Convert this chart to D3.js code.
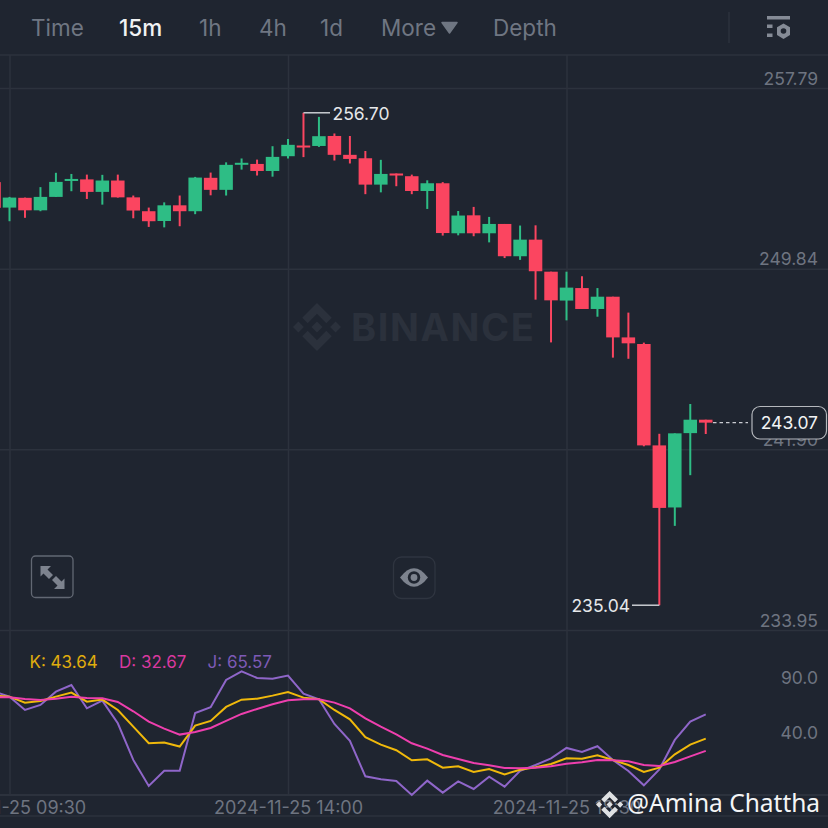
<!DOCTYPE html>
<html>
<head>
<meta charset="utf-8">
<script src="https://cdn.jsdelivr.net/npm/d3@7"></script>
<style>
  html, body { margin: 0; padding: 0; background: #1f2530; }
  svg { display: block; font-family: Inter, "Noto Sans", sans-serif; }
</style>
</head>
<body>
<svg id="thesvg" width="828" height="828"></svg>
<script>
// first candle is 09:15, one every 15 minutes
var startTime = "2024-11-25 09:15";

var opens = [253.65, 252.53, 252.96, 252.41, 253.00, 253.70, 253.77, 253.22, 253.72, 252.98, 252.37, 251.94, 252.63, 252.37, 253.84, 253.31, 254.42, 254.45, 254.14, 254.79, 255.26, 255.24, 255.68, 254.85, 254.70, 253.54, 254.03, 253.91, 253.26, 253.60, 251.40, 252.19, 251.40, 251.81, 250.39, 251.12, 249.71, 248.44, 248.99, 248.07, 248.61, 246.82, 246.53, 242.07, 239.34, 242.61, 243.20];
var highs = [253.70, 253.00, 252.97, 253.43, 254.06, 254.01, 253.98, 253.97, 253.98, 253.06, 252.53, 252.76, 253.06, 253.88, 254.07, 254.52, 254.69, 254.64, 255.23, 255.55, 256.70, 256.52, 255.79, 255.68, 255.02, 254.63, 254.03, 253.98, 253.73, 253.65, 252.38, 252.56, 252.12, 251.81, 251.74, 251.75, 249.71, 249.71, 249.51, 248.99, 248.61, 247.91, 246.59, 242.58, 242.60, 243.89, 243.20];
var lows = [252.40, 251.93, 252.08, 252.37, 253.00, 253.25, 252.91, 252.66, 252.97, 252.06, 251.68, 251.66, 251.71, 252.24, 253.07, 253.06, 254.20, 253.94, 253.89, 254.69, 254.75, 255.20, 254.60, 254.47, 253.12, 253.20, 253.47, 253.12, 252.47, 251.30, 251.31, 251.27, 251.00, 250.31, 250.23, 248.48, 246.60, 247.57, 248.07, 247.73, 245.93, 245.88, 242.03, 235.04, 238.53, 240.76, 242.57];
var closes = [252.52, 252.97, 252.41, 253.00, 253.66, 253.79, 253.22, 253.72, 252.98, 252.40, 251.93, 252.63, 252.37, 253.85, 253.31, 254.41, 254.50, 254.14, 254.76, 255.29, 255.20, 255.67, 254.85, 254.67, 253.54, 254.01, 253.94, 253.26, 253.60, 251.41, 252.18, 251.40, 251.81, 250.39, 251.12, 249.73, 248.45, 249.01, 248.07, 248.61, 246.82, 246.56, 242.07, 239.32, 242.60, 243.20, 243.07];

var kValues = [82.4, 81.5, 76.1, 77.6, 81.5, 85.1, 77.0, 78.8, 69.5, 54.5, 39.5, 40.1, 36.5, 55.4, 59.6, 72.2, 78.8, 79.7, 82.4, 85.7, 80.6, 79.1, 69.5, 61.1, 44.9, 38.3, 33.2, 24.2, 25.0, 17.5, 18.7, 13.6, 16.3, 11.5, 15.7, 17.8, 20.8, 25.9, 25.6, 28.7, 24.4, 19.9, 13.6, 17.5, 29.5, 38.3, 43.64];
var dValues = [80.9, 80.9, 79.4, 78.5, 79.7, 81.5, 80.3, 80.0, 76.7, 68.3, 59.0, 52.7, 47.3, 49.7, 53.3, 59.6, 65.9, 70.4, 74.6, 78.2, 79.1, 79.1, 76.1, 71.0, 62.0, 54.5, 47.6, 39.5, 34.7, 28.9, 25.3, 21.7, 19.6, 17.2, 16.9, 17.5, 18.8, 21.1, 22.3, 24.4, 24.1, 23.2, 19.9, 19.0, 22.6, 27.7, 32.67];
var jValues = [86.0, 81.5, 69.5, 74.0, 86.0, 92.0, 71.0, 77.9, 57.5, 24.5, 1.0, 14.8, 14.8, 66.8, 71.9, 96.5, 104.3, 98.3, 97.7, 100.5, 84.2, 79.1, 56.9, 41.6, 9.7, 7.0, 5.5, -7.1, 5.8, -5.0, 5.2, -1.7, 9.4, 0.4, 14.7, 19.9, 25.9, 35.3, 31.7, 36.8, 24.4, 14.5, 1.6, 16.0, 42.5, 59.0, 65.57];

var priceTicks = [257.79, 249.84, 241.90, 233.95];
var kdjTicks = [90, 40];
var timeTicks = ["2024-11-25 09:30", "2024-11-25 14:00", "2024-11-25 18:30"];
var menuLabels = ["Time", "15m", "1h", "4h", "1d", "More", "Depth"];
var menuStarts = [31, 119, 199, 259, 320, 381, 493];

var lastPrice = 243.07;
var highPrice = 256.70;
var lowPrice = 235.04;

var red = "#fb4560";
var green = "#2ebd85";
var gridColor = "#2c323d";
var axisText = "#6e7480";
var bg = "#1f2530";
var logoPath = "M38.73 53.2l24.59-24.58 24.6 24.6 14.3-14.31L63.32 0 24.42 38.9zM0 63.31l14.3-14.31 14.31 14.31-14.31 14.3zM38.73 73.41l24.59 24.59 24.6-24.6 14.31 14.29-38.9 38.91-38.91-38.88zM98 63.31l14.3-14.31 14.31 14.3-14.31 14.32zM77.83 63.3L63.32 48.78 52.59 59.51l-1.24 1.23-2.54 2.54 14.51 14.5 14.51-14.47z";

var svg = d3.select("#thesvg");
var parseTime = d3.timeParse("%Y-%m-%d %H:%M");
var formatTime = d3.timeFormat("%Y-%m-%d %H:%M");

var times = opens.map(function(d, i) {
    return d3.timeMinute.offset(parseTime(startTime), 15 * i);
});

var xScale = d3.scaleTime()
    .domain([parseTime(timeTicks[0]), parseTime(timeTicks[2])])
    .range([9.5, 566.5]);
var yScale = d3.scaleLinear().domain([257.79, 233.95]).range([88, 630]);
var kdjScale = d3.scaleLinear().domain([90, 40]).range([687.2, 742.7]);

// background + frame lines
svg.append("rect").attr("width", 828).attr("height", 828).attr("fill", bg);
[55, 795, 816].forEach(function(y) {
    svg.append("line").attr("x1", 0).attr("x2", 828).attr("y1", y).attr("y2", y)
        .attr("stroke", gridColor).attr("stroke-width", y == 795 ? 2 : 1.5);
});

// price axis with full width gridlines
var priceAxis = d3.axisRight(yScale)
    .tickValues(priceTicks)
    .tickSize(828)
    .tickFormat(d3.format(".2f"));
var priceG = svg.append("g").attr("class", "priceAxis").call(priceAxis);
priceG.select(".domain").remove();
priceG.selectAll("line").attr("stroke", gridColor).attr("stroke-width", 1.5);
priceG.selectAll("text")
    .attr("x", 818).attr("dy", -4).attr("text-anchor", "end")
    .attr("fill", axisText).style("font-size", "17.5px").style("font-family", "Inter");

// time axis, the tick lines are the vertical grid
var timeAxis = d3.axisBottom(xScale)
    .tickValues(timeTicks.map(parseTime))
    .tickSize(-740)
    .tickPadding(6)
    .tickFormat(formatTime);
var timeG = svg.append("g").attr("class", "timeAxis")
    .attr("transform", "translate(0,795)")
    .call(timeAxis);
timeG.select(".domain").remove();
timeG.selectAll("line").attr("stroke", gridColor).attr("stroke-width", 1.5);
timeG.selectAll("text")
    .attr("fill", axisText).style("font-size", "18px").style("font-family", "Inter");

// watermark
svg.append("path").attr("d", logoPath)
    .attr("transform", "translate(293,303) scale(0.379)")
    .attr("fill", "#2b313c");
svg.append("text").attr("x", 351).attr("y", 341)
    .attr("fill", "#2b313c")
    .style("font-size", "38px").style("font-weight", 700).style("letter-spacing", "1.6px")
    .text("BINANCE");

// candles
var candles = svg.append("g").selectAll("g").data(opens).enter().append("g");
candles.append("line")
    .attr("x1", function(d, i) { return xScale(times[i]); })
    .attr("x2", function(d, i) { return xScale(times[i]); })
    .attr("y1", function(d, i) { return yScale(highs[i]); })
    .attr("y2", function(d, i) { return yScale(lows[i]); })
    .attr("stroke", function(d, i) { return closes[i] >= opens[i] ? green : red; })
    .attr("stroke-width", 2);
candles.append("rect")
    .attr("x", function(d, i) { return xScale(times[i]) - 6.75; })
    .attr("width", 13.5)
    .attr("y", function(d, i) { return yScale(Math.max(opens[i], closes[i])); })
    .attr("height", function(d, i) {
        return Math.max(2, Math.abs(yScale(opens[i]) - yScale(closes[i])));
    })
    .attr("fill", function(d, i) { return closes[i] >= opens[i] ? green : red; });

// high / low callouts
var highIdx = highs.indexOf(highPrice);
var lowIdx = lows.indexOf(lowPrice);
svg.append("line")
    .attr("x1", xScale(times[highIdx])).attr("x2", 330)
    .attr("y1", yScale(highPrice)).attr("y2", yScale(highPrice))
    .attr("stroke", "#c9ccd1").attr("stroke-width", 1.5);
svg.append("text").attr("x", 332.5).attr("y", yScale(highPrice) + 7)
    .attr("fill", "#e6e8ea").style("font-size", "17.5px")
    .text(d3.format(".2f")(highPrice));
svg.append("line")
    .attr("x1", 632).attr("x2", xScale(times[lowIdx]))
    .attr("y1", yScale(lowPrice)).attr("y2", yScale(lowPrice))
    .attr("stroke", "#c9ccd1").attr("stroke-width", 1.5);
svg.append("text").attr("x", 630).attr("y", yScale(lowPrice) + 7)
    .attr("text-anchor", "end")
    .attr("fill", "#e6e8ea").style("font-size", "17.5px")
    .text(d3.format(".2f")(lowPrice));

// last price tag
svg.append("line")
    .attr("x1", 713).attr("x2", 748)
    .attr("y1", yScale(lastPrice)).attr("y2", yScale(lastPrice))
    .attr("stroke", "#c9ccd1").attr("stroke-width", 1.2).attr("stroke-dasharray", "3.5 3");
svg.append("rect").attr("x", 752).attr("y", 406.5).attr("width", 74.5).attr("height", 32.5).attr("rx", 8)
    .attr("fill", bg).attr("stroke", "#b5b8bd").attr("stroke-width", 1.2);
svg.append("text").attr("x", 818).attr("y", yScale(lastPrice) + 6.5)
    .attr("text-anchor", "end")
    .attr("fill", "#f2f3f4").style("font-size", "17.5px")
    .text(d3.format(".2f")(lastPrice));

// KDJ panel
var kdjLine = d3.line()
    .x(function(d, i) { return xScale(times[i]); })
    .y(function(d) { return kdjScale(d); });
var kdjSeries = [
    { values: jValues, color: "#8f66c9" },
    { values: kValues, color: "#f0b90b" },
    { values: dValues, color: "#ee3fae" }
];
kdjSeries.forEach(function(s) {
    svg.append("path").attr("d", kdjLine(s.values))
        .attr("fill", "none").attr("stroke", s.color).attr("stroke-width", 2);
});

var kdjAxis = d3.axisRight(kdjScale).tickValues(kdjTicks).tickSize(0).tickFormat(d3.format(".1f"));
var kdjG = svg.append("g").call(kdjAxis);
kdjG.select(".domain").remove();
kdjG.selectAll("text")
    .attr("x", 818).attr("dy", -4).attr("text-anchor", "end")
    .attr("fill", axisText).style("font-size", "17.5px").style("font-family", "Inter");

var kdjLegend = [
    ["K: " + d3.format(".2f")(kValues[kValues.length - 1]), 29.5, "#e0ad0d"],
    ["D: " + d3.format(".2f")(dValues[dValues.length - 1]), 119, "#d8399f"],
    ["J: " + d3.format(".2f")(jValues[jValues.length - 1]), 207.5, "#7d5ab6"]
];
kdjLegend.forEach(function(l) {
    svg.append("text").attr("x", l[1]).attr("y", 667.5)
        .attr("fill", l[2]).style("font-size", "17px").text(l[0]);
});

// top menu
menuLabels.forEach(function(name, i) {
    svg.append("text").attr("x", menuStarts[i]).attr("y", 36)
        .attr("fill", name == "15m" ? "#f1f2f3" : "#6f7682")
        .style("font-size", "22.5px")
        .style("font-weight", name == "15m" ? 500 : 400)
        .text(name);
});
svg.append("path").attr("d", "M442 22.5 H457 L449.5 33 Z")
    .attr("fill", "#6f7682").attr("stroke", "#6f7682").attr("stroke-width", 1.5).attr("stroke-linejoin", "round");
svg.append("line").attr("x1", 729).attr("x2", 729).attr("y1", 12).attr("y2", 43)
    .attr("stroke", gridColor).attr("stroke-width", 1.5);

// settings icon
var iconColor = "#858b96";
svg.append("rect").attr("x", 767).attr("y", 16).attr("width", 23).attr("height", 3.5).attr("fill", iconColor);
svg.append("rect").attr("x", 767).attr("y", 24.5).attr("width", 5.5).attr("height", 3.5).attr("fill", iconColor);
svg.append("rect").attr("x", 767).attr("y", 33.5).attr("width", 5.5).attr("height", 3.5).attr("fill", iconColor);
svg.append("path").attr("d", "M783.5 23.5 L790 27.2 V35 L783.5 39 L777 35 V27.2 Z").attr("fill", iconColor);
svg.append("circle").attr("cx", 783.5).attr("cy", 31).attr("r", 2.8).attr("fill", bg);

// expand button
svg.append("rect").attr("x", 31.5).attr("y", 556).attr("width", 41.5).attr("height", 41.5).attr("rx", 4)
    .attr("fill", "none").attr("stroke", "#626873").attr("stroke-width", 1.3);
svg.append("path").attr("d", "M40.5 566 H51 L47.5 569.5 L53 575 L49 579 L43.5 573.5 L40.5 576.5 Z").attr("fill", "#7d838e");
svg.append("path").attr("d", "M64.5 589 H54 L57.5 585.5 L52 580 L56 576 L61.5 581.5 L64.5 578.5 Z").attr("fill", "#7d838e");

// eye button
svg.append("rect").attr("x", 393.5).attr("y", 557).attr("width", 41.5).attr("height", 41.5).attr("rx", 8)
    .attr("fill", "none").attr("stroke", "#2f3540").attr("stroke-width", 1.3);
svg.append("path").attr("d", "M400 577.5 Q414 559 428 577.5 Q414 596 400 577.5 Z").attr("fill", "#7d838e");
svg.append("circle").attr("cx", 414).attr("cy", 577.5).attr("r", 6.2).attr("fill", bg);
svg.append("circle").attr("cx", 414).attr("cy", 577.5).attr("r", 3.4).attr("fill", "#7d838e");

// author stamp over everything
svg.append("path").attr("d", logoPath)
    .attr("transform", "translate(596,791) scale(0.215)")
    .attr("fill", "#dfe1e3");
svg.append("text").attr("x", 627).attr("y", 812)
    .attr("fill", "#f4f5f6")
    .style("font-family", "'Noto Sans'").style("font-size", "24.5px")
    .text("@Amina Chattha");
</script>
</body>
</html>
